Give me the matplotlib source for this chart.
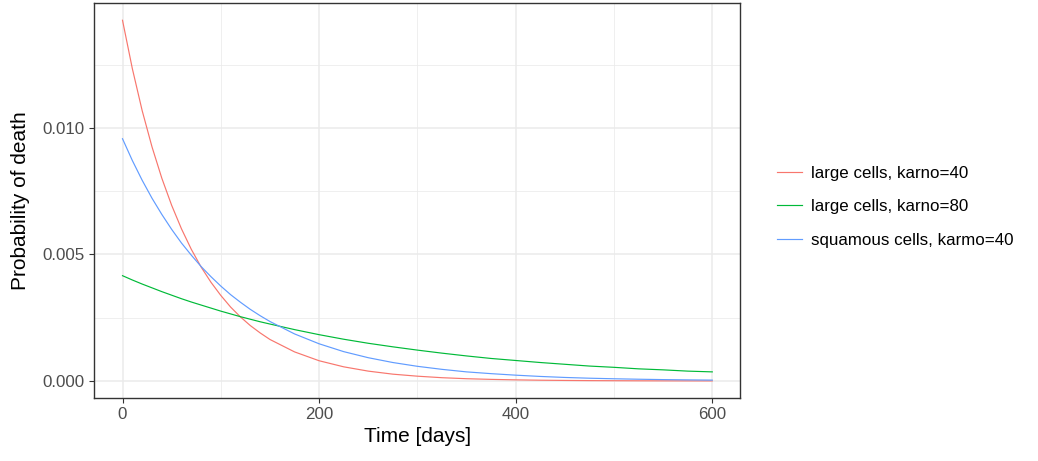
import matplotlib
matplotlib.use("Agg")
import matplotlib.pyplot as plt
from matplotlib.ticker import FixedLocator

plt.rcParams['font.family'] = ['Liberation Sans', 'DejaVu Sans']

days = [0, 10, 20, 30, 40, 50, 60, 70, 80, 90, 100, 110, 120, 130, 140, 150,
        175, 200, 225, 250, 275, 300, 325, 350, 375, 400, 425, 450, 475,
        500, 525, 550, 575, 600]

large_k40 = [0.01425, 0.01234, 0.01068, 0.00925, 0.00801, 0.00694, 0.00601,
             0.00520, 0.00450, 0.00390, 0.00338, 0.00292, 0.00253, 0.00219,
             0.00190, 0.00164,
             0.00115, 0.00080, 0.00056, 0.00039, 0.00027, 0.00019, 0.00013,
             0.00009, 0.000064, 0.000045, 0.000031, 0.000022, 0.000015,
             0.000011, 0.0000074, 0.0000052, 0.0000036, 0.0000025]

large_k80 = [0.00416, 0.00399, 0.00383, 0.00368, 0.00353, 0.00339, 0.00325,
             0.00312, 0.00300, 0.00288, 0.00276, 0.00265, 0.00254, 0.00244,
             0.00234, 0.00225,
             0.00203, 0.00183, 0.00165, 0.00149, 0.00135, 0.00122, 0.00110,
             0.00099, 0.00089, 0.00081, 0.00073, 0.00066, 0.00059, 0.00054,
             0.00048, 0.00044, 0.00039, 0.00036]

squam_k40 = [0.00957, 0.00871, 0.00793, 0.00722, 0.00658, 0.00599, 0.00545,
             0.00497, 0.00452, 0.00412, 0.00375, 0.00341, 0.00311, 0.00283,
             0.00258, 0.00235,
             0.00186, 0.00147, 0.00116, 0.00092, 0.00073, 0.00058, 0.00046,
             0.00036, 0.00029, 0.00023, 0.00018, 0.00014, 0.00011, 0.000088,
             0.00007, 0.000055, 0.000044, 0.000035]

labels = ["large cells, karno=40", "large cells, karno=80",
          "squamous cells, karmo=40"]
colors = ["#F8766D", "#00BA38", "#619CFF"]

fig = plt.figure(figsize=(10.38, 4.61), dpi=100)
ax = fig.add_axes([94 / 1038, 1 - 397.5 / 461, (740.3 - 94) / 1038, (397.5 - 3.3) / 461])

for y, lab, c in zip([large_k40, large_k80, squam_k40], labels, colors):
    ax.plot(days, y, color=c, lw=0.85, label=lab)

ax.set_xlim(-29, 628.5)
ax.set_ylim(-0.000652, 0.01492)
ax.xaxis.set_major_locator(FixedLocator([0, 200, 400, 600]))
ax.xaxis.set_minor_locator(FixedLocator([100, 300, 500]))
ax.yaxis.set_major_locator(FixedLocator([0.0, 0.005, 0.010]))
ax.yaxis.set_minor_locator(FixedLocator([0.0025, 0.0075, 0.0125]))
ax.set_yticklabels(["0.000", "0.005", "0.010"])
ax.set_xticklabels(["0", "200", "400", "600"])

ax.grid(which='major', color='#EBEBEB', lw=1.1)
ax.grid(which='minor', color='#EBEBEB', lw=0.55)
ax.set_axisbelow(True)
ax.tick_params(which='major', length=3.5, width=0.8, color='#333333',
               labelcolor='#4D4D4D', labelsize=12.2, pad=3)
ax.tick_params(which='minor', length=0)
for s in ax.spines.values():
    s.set_color('#333333')
    s.set_linewidth(1.0)

ax.set_xlabel("Time [days]", fontsize=15, color='black', labelpad=4)
ax.set_ylabel("Probability of death", fontsize=15, color='black', labelpad=9)

leg = fig.legend(loc='center left', bbox_to_anchor=(776.7 / 1038, 1 - 206.7 / 461),
                 frameon=False, fontsize=12.2, handlelength=1.5, handletextpad=0.5,
                 labelspacing=1.1, borderpad=0, borderaxespad=0)
for t in leg.get_texts():
    t.set_color('black')

fig.savefig("out.png", dpi=100)
